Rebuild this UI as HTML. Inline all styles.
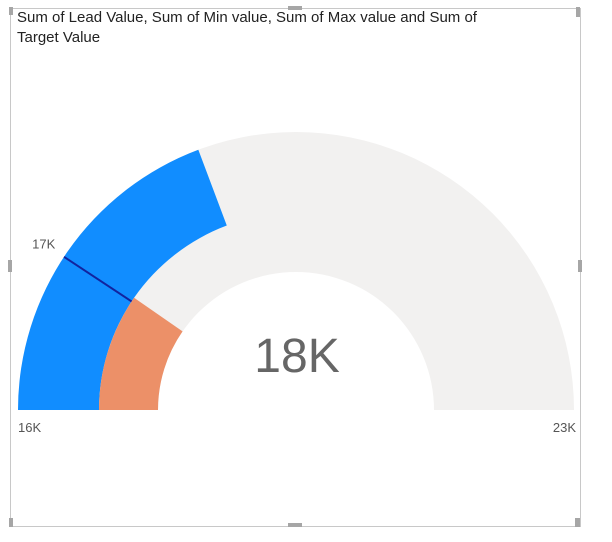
<!DOCTYPE html>
<html><head><meta charset="utf-8"><style>
html,body{margin:0;padding:0;background:#fff;}
body{width:612px;height:542px;position:relative;overflow:hidden;font-family:"Liberation Sans",sans-serif;}
.h{position:absolute;background:#a6a6a6;}
</style></head><body>
<div style="position:absolute;left:10px;top:8px;width:569px;height:517px;border:1px solid #c8c8c8;"></div>
<div class="h" style="left:9px;top:7px;width:4px;height:8px"></div>
<div class="h" style="left:288px;top:6px;width:14px;height:4px"></div>
<div class="h" style="left:576px;top:7px;width:4px;height:10px"></div>
<div class="h" style="left:8px;top:260px;width:4px;height:12px"></div>
<div class="h" style="left:578px;top:260px;width:4px;height:12px"></div>
<div class="h" style="left:9px;top:518px;width:4px;height:9px"></div>
<div class="h" style="left:288px;top:523px;width:14px;height:4px"></div>
<div class="h" style="left:575px;top:518px;width:5px;height:9px"></div>
<div style="position:absolute;left:17px;top:8px;width:478px;font-size:15px;line-height:20px;color:#222;">Sum of Lead Value, Sum of Min value, Sum of Max value and Sum of Target Value</div>
<svg id="g" width="612" height="542" style="position:absolute;left:0;top:0"></svg>
<script>
const minValue = [16000];
const maxValue = [23000];
const leadValue = [18700];
const orangeValue = [17350];
const targetValue = [17300];
const labels = ["16K","23K","17K","18K"];
const NS="http://www.w3.org/2000/svg";
const svg=document.getElementById('g');
const cx=296, cy=410, R=278, r=138, rm=197;
function ang(v){return Math.PI*(1-(v-minValue[0])/(maxValue[0]-minValue[0]));}
function pt(a,rad){return [cx+rad*Math.cos(a), cy-rad*Math.sin(a)];}
function band(v0,v1,ri,ro){
  const a0=ang(v0),a1=ang(v1);
  const p1=pt(a0,ro),p2=pt(a1,ro),p3=pt(a1,ri),p4=pt(a0,ri);
  return `M${p1} A${ro},${ro} 0 0 1 ${p2} L${p3} A${ri},${ri} 0 0 0 ${p4} Z`;
}
function mk(tag,attrs){const e=document.createElementNS(NS,tag);for(const k in attrs)e.setAttribute(k,attrs[k]);svg.appendChild(e);return e;}
let e;
e=mk('path',{d:band(minValue[0],maxValue[0],r,R),fill:'#F2F1F0'});


e=mk('path',{d:band(minValue[0],leadValue[0],rm,R),fill:'#118DFF'});


e=mk('path',{d:band(minValue[0],orangeValue[0],r,rm),fill:'#EC9068'});


const ta=ang(targetValue[0]);const t1=pt(ta,rm),t2=pt(ta,R);
e=mk('line',{x1:t1[0],y1:t1[1],x2:t2[0],y2:t2[1],stroke:'#12239E','stroke-width':2});


function txt(s,x,y,size,anchor,fill){const t=mk('text',{x:x,y:y,'font-size':size,'text-anchor':anchor,fill:fill,'font-family':'Liberation Sans, sans-serif'});t.textContent=s;return t;}
e=txt(labels[0],18,432,13,'start','#555');


e=txt(labels[1],576,432,13,'end','#555');


const tl=pt(ta,R+8);
e=txt(labels[2],tl[0]-2,tl[1]-4,13,'end','#555');


e=txt(labels[3],297,372,48,'middle','#666');


</script>
</body></html>
